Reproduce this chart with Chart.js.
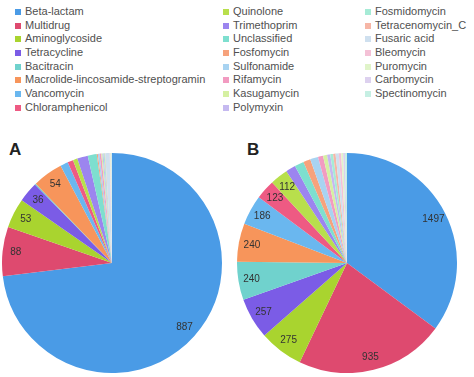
<!DOCTYPE html>
<html>
<head>
<meta charset="utf-8">
<script src="https://cdn.jsdelivr.net/npm/chart.js@4"></script>
<style>
  html, body { margin: 0; padding: 0; background: #fff; }
  body { width: 474px; height: 377px; position: relative; overflow: hidden; font-family: "Liberation Sans", Arial, sans-serif; }
  .lg { position: absolute; font-size: 11px; color: #505050; line-height: 13px; white-space: nowrap; }
  .sw { position: absolute; width: 6px; height: 6px; }
  .panel { position: absolute; font-weight: bold; font-size: 17px; color: #222; }
  canvas { position: absolute; }
</style>
</head>
<body>
<div id="legend"></div>
<div class="panel" style="left:9px; top:140px;">A</div>
<div class="panel" style="left:247px; top:140px;">B</div>
<canvas id="pieA" width="220" height="220" style="left:2px; top:153px;"></canvas>
<canvas id="pieB" width="220" height="220" style="left:237px; top:153px;"></canvas>
<script>
const categories = ["Beta-lactam","Multidrug","Aminoglycoside","Tetracycline","Bacitracin",
  "Macrolide-lincosamide-streptogramin","Vancomycin","Chloramphenicol",
  "Quinolone","Trimethoprim","Unclassified","Fosfomycin","Sulfonamide","Rifamycin","Kasugamycin","Polymyxin",
  "Fosmidomycin","Tetracenomycin_C","Fusaric acid","Bleomycin","Puromycin","Carbomycin","Spectinomycin"];
const colors = ["#4a9be6","#de4a6f","#a9d42f","#7b5ce6","#70d2cd","#f7955b","#6ab7ef","#ee5a83",
  "#b8df4c","#9c85ef","#7edfcf","#f6a27c","#a8d3f1","#f29bc1","#d5f0a2","#c5b9f0",
  "#a6ebd6","#f6b6a6","#cfe0ef","#f4c1d6","#e0f4c9","#ddd1ef","#c6efe3"];
const valuesA = [887,88,53,36,2,54,14,10,8,19,16,2,3,3,2,2,2,1,8,1,1,1,1];
const valuesB = [1497,935,275,257,240,240,186,123,112,62,58,45,50,32,25,20,18,15,20,15,12,12,12];

// HTML legend, column-major
const legend = document.getElementById('legend');
const colX = [15, 223, 365];
const colCount = [8, 8, 7];
let idx = 0;
colCount.forEach((n, c) => {
  for (let r = 0; r < n; r++, idx++) {
    const y = 12 + r * 13.66;
    const sw = document.createElement('div');
    sw.className = 'sw';
    sw.style.left = colX[c] + 'px';
    sw.style.top = (y - 3) + 'px';
    sw.style.background = colors[idx];
    legend.appendChild(sw);
    const t = document.createElement('div');
    t.className = 'lg';
    t.style.left = (colX[c] + 10) + 'px';
    t.style.top = (y - 7) + 'px';
    t.textContent = categories[idx];
    legend.appendChild(t);
  }
});

const sliceLabels = {
  id: 'sliceLabels',
  afterDatasetsDraw(chart) {
    const ctx = chart.ctx;
    const data = chart.data.datasets[0].data;
    const total = data.reduce((a, b) => a + b, 0);
    const meta = chart.getDatasetMeta(0);
    ctx.save();
    ctx.font = '10px "Liberation Sans", Arial, sans-serif';
    ctx.fillStyle = '#333';
    ctx.textAlign = 'center';
    ctx.textBaseline = 'middle';
    meta.data.forEach((arc, i) => {
      if (data[i] / total < 0.025) return;
      const p = arc.getProps(['x','y','startAngle','endAngle','outerRadius'], true);
      const mid = (p.startAngle + p.endAngle) / 2;
      const rr = p.outerRadius * 0.88;
      ctx.fillText(String(data[i]), p.x + Math.cos(mid) * rr, p.y + Math.sin(mid) * rr);
    });
    ctx.restore();
  }
};

function makePie(id, values) {
  new Chart(document.getElementById(id), {
    type: 'pie',
    data: { labels: categories, datasets: [{ data: values, backgroundColor: colors, borderWidth: 0 }] },
    options: {
      responsive: false,
      animation: false,
      layout: { padding: 0 },
      plugins: { legend: { display: false }, tooltip: { enabled: false } }
    },
    plugins: [sliceLabels]
  });
}
makePie('pieA', valuesA);
makePie('pieB', valuesB);
</script>
</body>
</html>
